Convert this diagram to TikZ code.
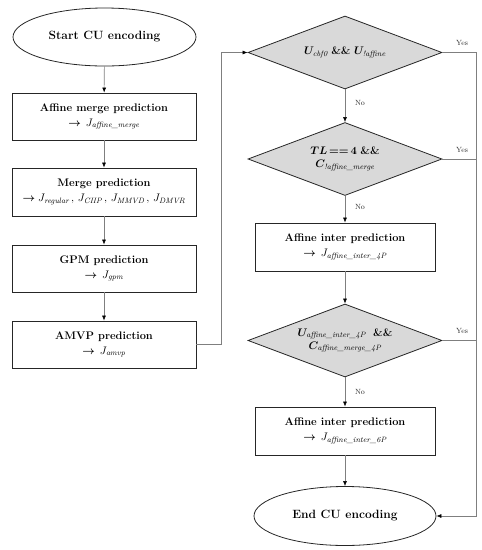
\documentclass[tikz,border=0pt]{standalone}
\usepackage{amsmath,bm}
\usetikzlibrary{shapes.geometric,arrows.meta}
\definecolor{connc}{HTML}{7F7F7F}
\definecolor{linec}{HTML}{262626}
\definecolor{decfill}{HTML}{D9D9D9}
\newcommand{\sbt}[1]{\text{\itshape #1}}
\begin{document}
\begin{tikzpicture}[x=1pt,y=-1pt,
 proc/.style={rectangle, draw=linec, line width=0.8pt, minimum width=184pt, minimum height=47pt, inner sep=2pt, align=center, font=\fontsize{11}{13}\selectfont},
 term/.style={ellipse, draw=linec, line width=0.8pt, minimum width=183pt, minimum height=58pt, inner sep=0pt, font=\fontsize{12}{14}\selectfont\bfseries},
 dec/.style={diamond, draw=linec, fill=decfill, line width=0.8pt, minimum width=194pt, minimum height=73pt, shape aspect=2.6, inner sep=0pt, align=center, font=\fontsize{11}{13}\selectfont},
 conn/.style={draw=connc, line width=0.6pt, -{Latex[length=5pt,width=4pt,color=black]}},
 plain/.style={draw=connc, line width=0.6pt},
 lbl/.style={font=\fontsize{7.5}{8}\selectfont, text=black!80, inner sep=1pt}
]
\useasboundingbox (0,0) rectangle (482,550);

% left column
\node[term] (s) at (104.5,37) {Start CU encoding};
\node[proc] (b1) at (104,116.5) {\textbf{Affine merge prediction}\\[2pt] $\bm{\rightarrow}\, J_{\sbt{affine\_merge}}$};
\node[proc, minimum height=48pt] (b2) at (104,192) {\textbf{Merge prediction}\\[2pt] $\bm{\rightarrow} J_{\sbt{regular}}\,,\,J_{\sbt{CIIP}}\,,\,J_{\sbt{MMVD}}\,,\,J_{\sbt{DMVR}}$};
\node[proc] (b3) at (104,268.5) {\textbf{GPM prediction}\\[2pt] $\bm{\rightarrow}\, J_{\sbt{gpm}}$};
\node[proc] (b4) at (104,344.5) {\textbf{AMVP prediction}\\[2pt] $\bm{\rightarrow}\, J_{\sbt{amvp}}$};

% right column
\node[dec] (d1) at (345,52.5) {$\bm{U}_{\sbt{cbf0}}$\ \textbf{\&\&}\ $\bm{U}_{\sbt{!affine}}$};
\node[dec] (d2) at (345,159) {$\bm{TL\,{=}{=}\,4}$ \textbf{\&\&}\\ $\bm{C}_{\sbt{!affine\_merge}}$};
\node[proc, minimum width=180pt, minimum height=48pt] (b5) at (345,247) {\textbf{Affine inter prediction}\\[2pt] $\bm{\rightarrow}\, J_{\sbt{affine\_inter\_4P}}$};
\node[dec] (d3) at (345,340.5) {$\bm{U}_{\sbt{affine\_inter\_4P}}$\ \ \textbf{\&\&}\\ $\bm{C}_{\sbt{affine\_merge\_4P}}$};
\node[proc, minimum width=180pt, minimum height=48pt] (b6) at (345,431) {\textbf{Affine inter prediction}\\[2pt] $\bm{\rightarrow}\, J_{\sbt{affine\_inter\_6P}}$};
\node[term, minimum width=182pt, minimum height=59pt] (e) at (345,516) {End CU encoding};

% connectors left
\draw[conn] (s) -- (b1);
\draw[conn] (b1) -- (b2);
\draw[conn] (b2) -- (b3);
\draw[conn] (b3) -- (b4);
\draw[conn] (b4.east) -- ++(25,0) |- (d1.west);

% connectors right
\draw[conn] (d1.south) -- (d2.north);
\draw[conn] (d2.south) -- (b5.north);
\draw[conn] (b5.south) -- (d3.north);
\draw[conn] (d3.south) -- (b6.north);
\draw[conn] (b6.south) -- (e.north);
\draw[conn] (d1.east) -- ++(34,0) |- (e.east);
\draw[plain] (d2.east) -- ++(34,0);
\draw[plain] (d3.east) -- ++(34,0);

% labels
\node[lbl] (n1) at (360,103) {No};
\node[lbl] (n2) at (360,207) {No};
\node[lbl] (n3) at (360,392) {No};
\node[lbl] (y1) at (462,43) {Yes};
\node[lbl] (y2) at (462,150) {Yes};
\node[lbl] (y3) at (462,331) {Yes};
\end{tikzpicture}
\end{document}
